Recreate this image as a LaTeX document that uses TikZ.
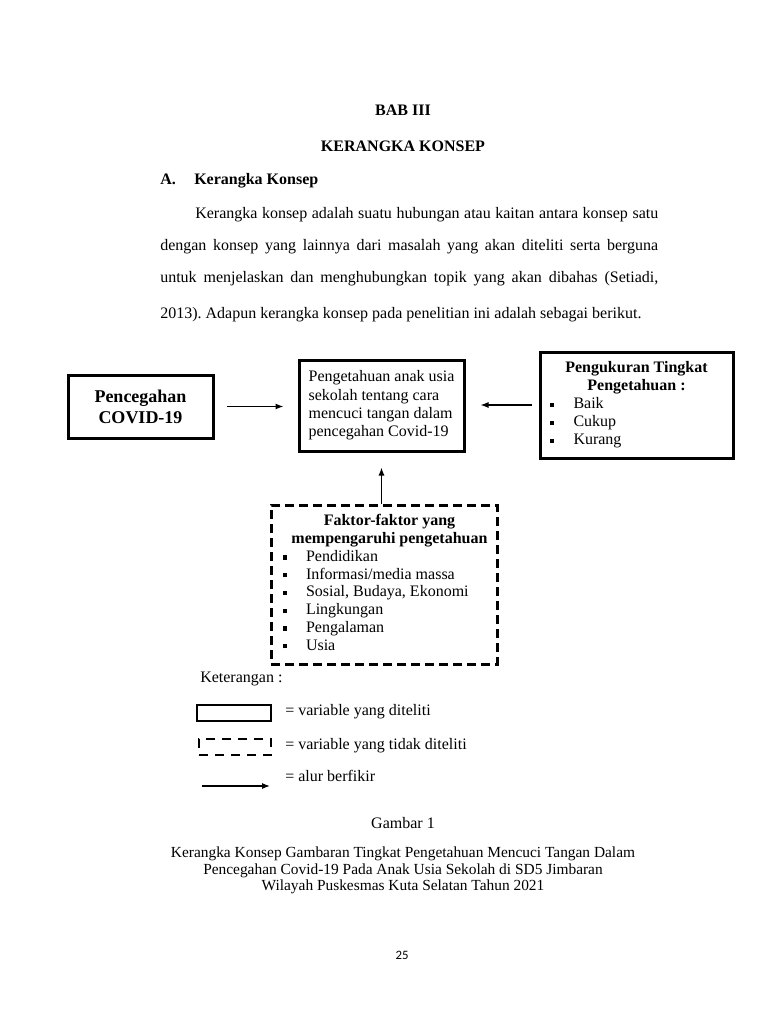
\documentclass[tikz,border=0pt]{standalone}
\usepackage{fontspec}
\setmainfont{Liberation Serif}
\newfontfamily\nomorfont{Carlito}
\usepackage{array}
\usetikzlibrary{arrows.meta}
\newcommand{\bul}{\rule[1.3pt]{3.2pt}{3.2pt}}
\frenchspacing

\begin{document}
\begin{tikzpicture}[x=0.75pt,y=-0.75pt,
    teks/.style={inner sep=0pt,font=\fontsize{12}{14}\selectfont},
    judul/.style={inner sep=0pt,font=\fontsize{12}{14}\selectfont\bfseries},
    keterangan/.style={inner sep=0pt,font=\fontsize{11.55}{14}\selectfont},
    kotak/.style={draw,line width=2.25pt,inner sep=0pt},
    kotakputus/.style={kotak,dash pattern=on 6.75pt off 3.75pt},
    panah/.style={line width=0.9pt,-{Latex[length=6pt,width=4.5pt]}}
  ]
  \useasboundingbox (0,0) rectangle (768,1024);

  \node[judul,anchor=base] (bab) at (403,115) {BAB III};
  \node[judul,anchor=base] (babjudul) at (403,151) {KERANGKA KONSEP};
  \node[judul,anchor=base west] (subno) at (160,184) {A.};
  \node[judul,anchor=base west] (subjudul) at (194,184) {Kerangka Konsep};

  \node[teks,anchor=base west] (para1) at (195,218) {\makebox[347.25pt][s]{Kerangka konsep adalah suatu hubungan atau kaitan antara konsep satu}};
  \node[teks,anchor=base west] (para2) at (160,250) {\makebox[373.5pt][s]{dengan konsep yang lainnya dari masalah yang akan diteliti serta berguna}};
  \node[teks,anchor=base west] (para3) at (160,282) {\makebox[373.5pt][s]{untuk menjelaskan dan menghubungkan topik yang akan dibahas (Setiadi,}};
  \node[teks,anchor=base west] (para4) at (160,318) {2013). Adapun kerangka konsep pada penelitian ini adalah sebagai berikut.};

  \node[kotak,minimum width=108.75pt,minimum height=47.25pt,align=center,
        font=\fontsize{13.5}{15.75}\selectfont\bfseries] (cegah) at (140.5,406.5)
        {Pencegahan\\COVID-19};
  \node[kotak,minimum width=123.75pt,minimum height=68.25pt,align=left,
        font=\fontsize{12}{13.75}\selectfont] (tahu) at (381.5,405.5)
        {Pengetahuan anak usia\\sekolah tentang cara\\mencuci tangan dalam\\pencegahan Covid-19};
  \node[kotak,minimum width=144.75pt,minimum height=79.5pt,
        font=\fontsize{12}{13.5}\selectfont] (ukur) at (636.5,405)
        {\begin{tabular}{@{}p{18pt}@{}p{112.5pt}@{}}
          \multicolumn{2}{@{}c@{}}{\bfseries Pengukuran Tingkat}\\
          \multicolumn{2}{@{}c@{}}{\bfseries Pengetahuan :}\\
          \bul & Baik\\
          \bul & Cukup\\
          \bul & Kurang
        \end{tabular}};
  \node[kotakputus,minimum width=169.5pt,minimum height=119.25pt,
        font=\fontsize{12}{13.3}\selectfont] (faktor) at (384,584.5)
        {\begin{tabular}{@{\hspace{8.25pt}}p{17.25pt}@{}p{142.5pt}@{}}
          \multicolumn{2}{@{\hspace{8.25pt}}c@{}}{\bfseries Faktor-faktor yang}\\
          \multicolumn{2}{@{\hspace{8.25pt}}c@{}}{\bfseries mempengaruhi pengetahuan}\\
          \bul & Pendidikan\\
          \bul & Informasi/media massa\\
          \bul & Sosial, Budaya, Ekonomi\\
          \bul & Lingkungan\\
          \bul & Pengalaman\\
          \bul & Usia
        \end{tabular}};

  \draw[panah,shorten <=9pt,shorten >=10.5pt] (cegah.east) -- (cegah.east -| tahu.west);
  \draw[panah,shorten <=5.25pt,shorten >=11.25pt] (ukur.west) -- (ukur.west -| tahu.east);
  \draw[panah,shorten >=11.25pt] (faktor.north -| tahu.south) -- (tahu.south);

  \node[teks,anchor=base west] (ket) at (200,682) {Keterangan :};
  \node[draw,line width=1.75pt,minimum width=55.5pt,minimum height=12pt,inner sep=0pt] (ketlurus) at (234,713) {};
  \node[draw,line width=1.75pt,dash pattern=on 6.75pt off 5.25pt,minimum width=54pt,minimum height=12pt,inner sep=0pt] (ketputus) at (235,747) {};
  \coordinate (ketawal) at (202,786);
  \coordinate (ketakhir) at (270,786);
  \draw[panah] (ketawal) -- (ketakhir);
  \node[teks,anchor=base west] (ketlurusteks) at (285,715) {= variable yang diteliti};
  \node[teks,anchor=base west] (ketputusteks) at (285,749) {= variable yang tidak diteliti};
  \node[teks,anchor=base west] (ketpanahteks) at (285,781) {= alur berfikir};

  \node[teks,anchor=base] (gambar) at (403,828) {Gambar 1};
  \node[keterangan,anchor=base] (cap1) at (403,857) {Kerangka Konsep Gambaran Tingkat Pengetahuan Mencuci Tangan Dalam};
  \node[keterangan,anchor=base] (cap2) at (403,874) {Pencegahan Covid-19 Pada Anak Usia Sekolah di SD5 Jimbaran};
  \node[keterangan,anchor=base] (cap3) at (403,890) {Wilayah Puskesmas Kuta Selatan Tahun 2021};

  \node[inner sep=0pt,anchor=base,font=\nomorfont\fontsize{9.6}{11}\selectfont] (hal) at (402,959) {25};
\end{tikzpicture}
\end{document}
